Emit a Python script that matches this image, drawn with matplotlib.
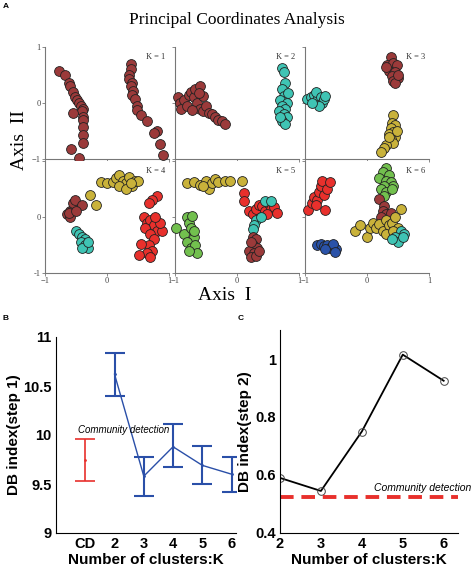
import numpy as np
import matplotlib
matplotlib.use("Agg")
import matplotlib.pyplot as plt

# ── data ─────────────────────────────────────────────────────────────────────
BROWN, TEAL, YELLOW = "#9b3a3a", "#3fc4b4", "#c9b23a"
RED, GREEN, BLUE = "#e8302c", "#72c04e", "#2a52a8"

k1_brown = [(-0.78,0.58),(-0.68,0.5),(-0.62,0.35),(-0.6,0.3),(-0.55,0.2),(-0.52,0.1),(-0.48,0.05),
            (-0.45,0),(-0.42,-0.05),(-0.38,-0.1),(-0.4,-0.15),(-0.55,-0.18),(-0.38,-0.25),(-0.38,-0.3),
            (-0.38,-0.42),(-0.38,-0.58),(-0.38,-0.72),(-0.58,-0.82),(-0.45,-0.98),
            (0.38,0.7),(0.38,0.6),(0.36,0.5),(0.35,0.42),(0.4,0.35),(0.38,0.3),(0.42,0.22),(0.4,0.15),
            (0.45,0.08),(0.48,-0.05),(0.48,-0.12),(0.55,-0.22),(0.65,-0.33),(0.8,-0.5),(0.75,-0.53),
            (0.85,-0.73),(0.9,-0.92)]
k2_brown = [(-0.95,0.1),(-0.92,0),(-0.9,-0.1),(-0.85,0.05),(-0.8,-0.05),(-0.78,0.15),(-0.75,0.2),
            (-0.7,0.1),(-0.68,0.25),(-0.65,0),(-0.6,0.3),(-0.6,-0.1),(-0.55,0.12),(-0.55,-0.15),
            (-0.5,-0.05),(-0.45,-0.18),(-0.4,-0.2),(-0.35,-0.25),(-0.3,-0.3),(-0.25,-0.32),(-0.2,-0.38),
            (-0.62,0.18),(-0.72,-0.12)]
k2_teal = [(0.72,0.62),(0.75,0.55),(0.78,0.35),(0.72,0.25),(0.75,0.12),(0.7,0.05),(0.8,0),(0.72,-0.05),
           (0.78,-0.1),(0.68,-0.15),(0.75,-0.2),(0.8,-0.25),(0.72,-0.32),(0.78,-0.38),(0.82,0.18),(0.7,-0.25)]
k3_teal = [(-0.97,0.08),(-0.9,0.1),(-0.85,0.15),(-0.8,0.05),(-0.82,0.2),(-0.75,0.1),(-0.72,0),
           (-0.7,0.08),(-0.78,-0.05),(-0.88,0.0),(-0.68,0.12)]
k3_brown = [(0.38,0.82),(0.32,0.68),(0.42,0.72),(0.48,0.68),(0.35,0.58),(0.45,0.55),(0.4,0.48),
            (0.5,0.45),(0.42,0.4),(0.45,0.35),(0.5,0.5),(0.3,0.65)]
k3_yellow = [(0.42,-0.22),(0.4,-0.35),(0.45,-0.4),(0.38,-0.45),(0.42,-0.52),(0.35,-0.55),(0.45,-0.6),
             (0.38,-0.65),(0.42,-0.72),(0.3,-0.75),(0.28,-0.8),(0.22,-0.88),(0.35,-0.6),(0.48,-0.5)]
k4_yellow = [(-0.1,0.62),(0,0.6),(0.1,0.62),(0.15,0.7),(0.2,0.75),(0.25,0.65),(0.3,0.6),(0.35,0.72),
             (0.4,0.55),(0.45,0.65),(0.2,0.55),(0.3,0.5),(0.5,0.65),(0.38,0.6),(-0.28,0.4),(-0.18,0.22)]
k4_brown = [(-0.65,0.05),(-0.6,0.1),(-0.55,0.15),(-0.5,0.2),(-0.55,0.25),(-0.6,0.0),(-0.52,0.3),
            (-0.4,0.22),(-0.62,0.08),(-0.5,0.1)]
k4_teal = [(-0.5,-0.25),(-0.45,-0.3),(-0.4,-0.35),(-0.35,-0.4),(-0.42,-0.45),(-0.35,-0.5),(-0.3,-0.55),
           (-0.4,-0.55),(-0.3,-0.45)]
k4_red = [(0.8,0.38),(0.72,0.3),(0.68,0.25),(0.6,0),(0.65,-0.1),(0.7,-0.05),(0.75,-0.15),(0.62,-0.2),
          (0.8,-0.25),(0.7,-0.3),(0.75,-0.4),(0.68,-0.5),(0.72,-0.6),(0.65,-0.65),(0.7,-0.72),
          (0.55,-0.48),(0.52,-0.68),(0.88,-0.25),(0.85,-0.1),(0.78,0.0)]
k5_yellow = [(-0.8,0.6),(-0.7,0.62),(-0.6,0.58),(-0.5,0.65),(-0.45,0.5),(-0.4,0.6),(-0.35,0.68),
             (-0.3,0.62),(-0.2,0.65),(-0.12,0.65),(0.08,0.65),(-0.55,0.55)]
k5_green = [(-0.98,-0.2),(-0.85,-0.3),(-0.8,0.0),(-0.78,-0.1),(-0.75,-0.2),(-0.72,0.02),(-0.7,-0.35),
            (-0.8,-0.45),(-0.75,-0.55),(-0.68,-0.5),(-0.65,-0.65),(-0.78,-0.6),(-0.7,-0.25)]
k5_red = [(0.12,0.42),(0.12,0.28),(0.2,0.1),(0.25,0.05),(0.3,0.15),(0.35,0.22),(0.4,0.2),(0.45,0.1),
          (0.5,0.25),(0.55,0.15),(0.6,0.18),(0.65,0.08),(0.48,0.05)]
k5_teal = [(0.45,0.28),(0.55,0.28),(0.3,-0.05),(0.28,-0.15),(0.25,-0.22),(0.38,0.0)]
k5_brown = [(0.25,-0.35),(0.3,-0.4),(0.25,-0.5),(0.32,-0.55),(0.2,-0.6),(0.28,-0.65),(0.22,-0.72),
            (0.3,-0.7),(0.35,-0.6),(0.22,-0.45)]
k6_red = [(-0.95,0.12),(-0.88,0.25),(-0.85,0.35),(-0.8,0.3),(-0.78,0.45),(-0.75,0.55),(-0.72,0.65),
          (-0.7,0.4),(-0.65,0.5),(-0.6,0.62),(-0.68,0.12),(-0.82,0.22)]
k6_blue = [(-0.8,-0.5),(-0.75,-0.48),(-0.7,-0.52),(-0.65,-0.5),(-0.6,-0.55),(-0.55,-0.5),(-0.5,-0.58),
           (-0.55,-0.48),(-0.68,-0.58),(-0.52,-0.62)]
k6_green = [(0.3,0.88),(0.25,0.8),(0.35,0.75),(0.2,0.7),(0.3,0.65),(0.38,0.62),(0.42,0.55),(0.28,0.55),
            (0.22,0.5),(0.3,0.45),(0.4,0.5),(0.28,0.38)]
k6_brown = [(0.2,0.32),(0.28,0.2),(0.25,0.1),(0.3,0.05),(0.38,0.08),(0.22,0.0)]
k6_yellow = [(-0.2,-0.25),(-0.12,-0.15),(0,-0.35),(0.05,-0.2),(0.1,-0.1),(0.15,-0.2),(0.2,-0.12),
             (0.25,-0.25),(0.3,-0.05),(0.35,-0.15),(0.4,-0.1),(0.45,-0.0),(0.5,-0.2),(0.55,0.15),
             (0.3,-0.3),(0.42,-0.25)]
k6_teal = [(0.55,-0.25),(0.6,-0.3),(0.45,-0.35),(0.5,-0.45),(0.4,-0.4),(0.58,-0.35)]

pcoa_panels = [
    [(k1_brown, BROWN)],
    [(k2_brown, BROWN), (k2_teal, TEAL)],
    [(k3_teal, TEAL), (k3_brown, BROWN), (k3_yellow, YELLOW)],
    [(k4_yellow, YELLOW), (k4_brown, BROWN), (k4_teal, TEAL), (k4_red, RED)],
    [(k5_yellow, YELLOW), (k5_green, GREEN), (k5_red, RED), (k5_teal, TEAL), (k5_brown, BROWN)],
    [(k6_red, RED), (k6_blue, BLUE), (k6_green, GREEN), (k6_brown, BROWN), (k6_yellow, YELLOW), (k6_teal, TEAL)],
]

b_labels = ["CD", "2", "3", "4", "5", "6"]
b_mean = [9.75, 10.62, 9.58, 9.88, 9.69, 9.60]
b_low = [9.53, 10.40, 9.38, 9.67, 9.50, 9.42]
b_high = [9.96, 10.84, 9.78, 10.11, 9.89, 9.78]

c_k = [2, 3, 4, 5, 6]
c_db = [0.59, 0.545, 0.75, 1.015, 0.925]
c_community = 0.525

# ── figure ───────────────────────────────────────────────────────────────────
W, H = 474, 573
fig = plt.figure(figsize=(W / 100, H / 100), dpi=100)
serif = "Liberation Serif"
sans = "Liberation Sans"

fig.text(0.5, 1 - 20 / H, "Principal Coordinates Analysis", ha="center", va="center",
         fontsize=12.5, family=serif)
fig.text(0.006, 1 - 6 / H, "A", fontsize=6, weight="bold", family=sans, va="center")

lefts = [45, 175, 305]
tops = [47, 161]
for i, groups in enumerate(pcoa_panels):
    r, c = divmod(i, 3)
    ax = fig.add_axes([lefts[c] / W, 1 - (tops[r] + 112) / H, 124 / W, 112 / H])
    for pts, col in groups:
        arr = np.array(pts)
        ax.scatter(arr[:, 0], arr[:, 1], s=50, c=col, edgecolors="#222222", linewidths=0.6,
                   clip_on=False, zorder=3)
    ax.set_xlim(-1, 1)
    ax.set_ylim(-1, 1)
    for s in ["top", "right"]:
        ax.spines[s].set_visible(False)
    for s in ["left", "bottom"]:
        ax.spines[s].set_color("#777777")
        ax.spines[s].set_linewidth(0.8)
    ax.set_xticks([-1, 0, 1])
    ax.set_yticks([-1, 0, 1])
    ax.tick_params(length=2, width=0.6, labelsize=6, colors="#777777", labelcolor="#444444", pad=1)
    if c != 0:
        ax.set_yticklabels([])
    elif r == 1:
        ax.set_yticklabels(["-1", "0", ""])
    if r == 0:
        ax.set_xticklabels([])
    for lab in ax.get_xticklabels() + ax.get_yticklabels():
        lab.set_family(serif)
    ax.text(0.97, 0.95, f"K = {i + 1}", transform=ax.transAxes, ha="right", va="top",
            fontsize=6, family=serif, color="#333333", zorder=5)

fig.text(20 / W, 1 - 140 / H, "Axis  II", rotation=90, ha="center", va="center",
         fontsize=14, family=serif)
fig.text(0.475, 1 - 296 / H, "Axis  I", ha="center", va="center", fontsize=14, family=serif)

# ── panel B ──────────────────────────────────────────────────────────────────
fig.text(0.006, 1 - 318 / H, "B", fontsize=6, weight="bold", family=sans, va="center")
axb = fig.add_axes([56 / W, 1 - 533 / H, 180 / W, 196 / H])
x = np.arange(1, len(b_labels) + 1)
mean = np.array(b_mean)
yerr = [mean - np.array(b_low), np.array(b_high) - mean]
axb.errorbar(x[:1], mean[:1], yerr=[yerr[0][:1], yerr[1][:1]], color="#e8302c", lw=1.2,
             capsize=7, capthick=1.2, marker=".", ms=2)
axb.errorbar(x[1:], mean[1:], yerr=[yerr[0][1:], yerr[1][1:]], color="#2a4fa8", lw=1.0,
             elinewidth=1.5, capsize=7, capthick=1.5, marker=".", ms=2)
axb.set_xlim(0, 6.15)
axb.set_ylim(9, 11)
axb.set_xticks(x)
axb.set_xticklabels(b_labels)
axb.set_yticks([9, 9.5, 10, 10.5, 11])
axb.set_yticklabels(["9", "9.5", "10", "10.5", "11"])
axb.text(0.75, 10.0, "Community detection", fontsize=7, style="italic", family=sans, va="bottom")
axb.set_xlabel("Number of clusters:K", fontsize=11, weight="bold", family=sans, labelpad=1)
axb.set_ylabel("DB index(step 1)", fontsize=11, weight="bold", family=sans, labelpad=2)
for s in ["top", "right"]:
    axb.spines[s].set_visible(False)
axb.tick_params(labelsize=10.5, length=0, pad=3)
for lab in axb.get_xticklabels() + axb.get_yticklabels():
    lab.set_weight("bold")
    lab.set_family(sans)

# ── panel C ──────────────────────────────────────────────────────────────────
fig.text(238 / W, 1 - 318 / H, "C", fontsize=6, weight="bold", family=sans, va="center")
axc = fig.add_axes([280 / W, 1 - 533 / H, 178 / W, 203 / H])
axc.plot(c_k, c_db, color="black", lw=1.3, marker="o", ms=5.5, mfc="none", mec="#444444", mew=0.7)
axc.axhline(c_community, color="#e8302c", lw=2.8, ls=(0, (3.5, 2)))
axc.text(4.3, c_community + 0.012, "Community detection", fontsize=7.5, style="italic",
         family=sans, va="bottom")
axc.set_xlim(2, 6.35)
axc.set_ylim(0.4, 1.1)
axc.set_xticks(c_k)
axc.set_yticks([0.4, 0.6, 0.8, 1.0])
axc.set_yticklabels(["0.4", "0.6", "0.8", "1"])
axc.set_xlabel("Number of clusters:K", fontsize=11, weight="bold", family=sans, labelpad=1)
axc.set_ylabel("DB index(step 2)", fontsize=11, weight="bold", family=sans, labelpad=2)
for s in ["top", "right"]:
    axc.spines[s].set_visible(False)
axc.tick_params(labelsize=10.5, length=0, pad=3)
for lab in axc.get_xticklabels() + axc.get_yticklabels():
    lab.set_weight("bold")
    lab.set_family(sans)

fig.savefig("out.png", dpi=100)
